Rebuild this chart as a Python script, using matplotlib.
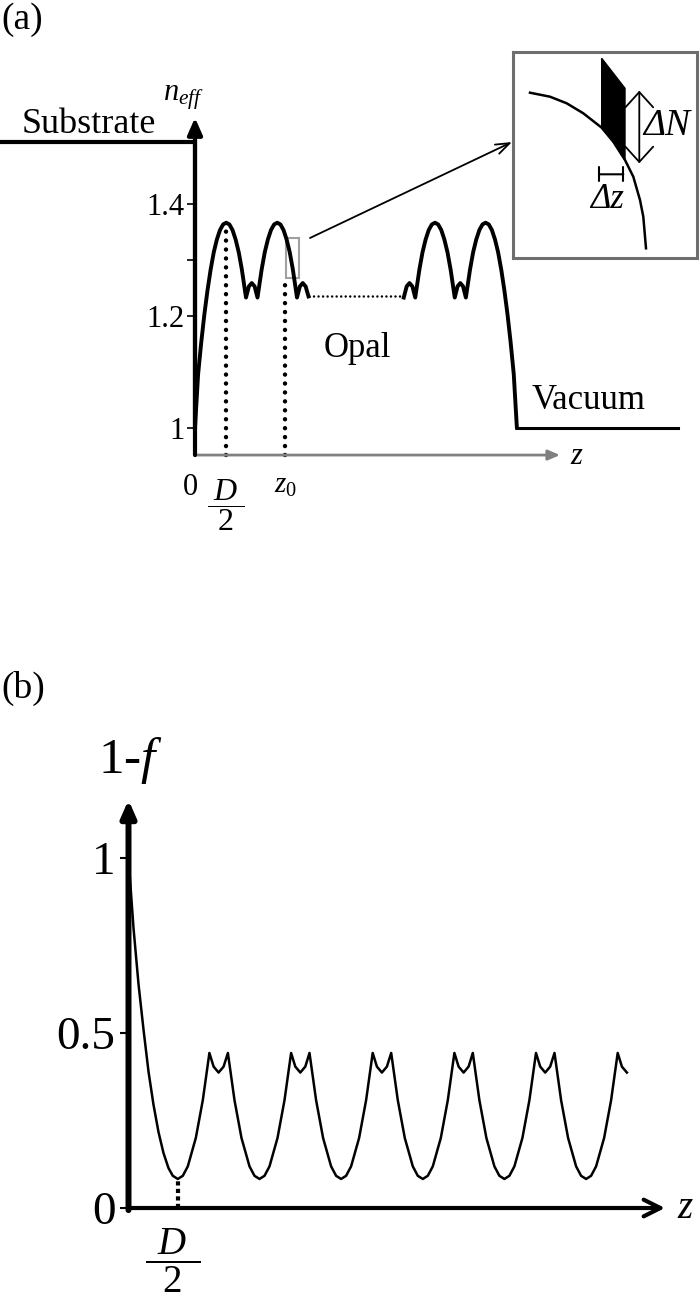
import matplotlib
matplotlib.use("Agg")
import matplotlib.pyplot as plt
from matplotlib.patches import Rectangle, Polygon

plt.rcParams['font.family'] = 'Liberation Serif'
plt.rcParams['mathtext.fontset'] = 'custom'
plt.rcParams['mathtext.rm'] = 'Liberation Serif'
plt.rcParams['mathtext.it'] = 'Liberation Serif:italic'

# ---- panel (a): effective index n_eff(z), z in units of D ----
sub_z = [-3.09, 0.0, 0.0]
sub_n = [1.5115, 1.5115, 1.0]

opal_left_z = [0.0, 0.05, 0.1, 0.15, 0.2, 0.25, 0.3, 0.35, 0.4, 0.45, 0.5, 0.55, 0.6, 0.65, 0.7, 0.75, 0.816,
               0.862, 0.908, 0.954, 1.0,
               1.066, 1.116, 1.166, 1.216, 1.266, 1.316, 1.366, 1.416, 1.466, 1.516, 1.566, 1.632,
               1.678, 1.724, 1.770, 1.816]
opal_left_n = [1.0, 1.096, 1.153, 1.203, 1.246, 1.283, 1.314, 1.337, 1.354, 1.364, 1.367, 1.364, 1.354, 1.337, 1.314, 1.283, 1.233,
               1.253, 1.259, 1.253, 1.233,
               1.283, 1.314, 1.337, 1.354, 1.364, 1.367, 1.364, 1.354, 1.337, 1.314, 1.283, 1.233,
               1.253, 1.259, 1.253, 1.235]

gap_z = [1.816, 3.34]
gap_n = [1.235, 1.235]

opal_right_z = [3.34, 3.387, 3.432, 3.478, 3.524,
                3.59, 3.64, 3.69, 3.74, 3.79, 3.84, 3.89, 3.94, 3.99, 4.04, 4.09, 4.156,
                4.201, 4.245, 4.289, 4.334,
                4.40, 4.45, 4.50, 4.55, 4.60, 4.65, 4.70, 4.75, 4.80, 4.85, 4.90,
                4.95, 5.0, 5.05, 5.10, 5.15]
opal_right_n = [1.233, 1.253, 1.259, 1.253, 1.233,
                1.283, 1.314, 1.337, 1.354, 1.364, 1.367, 1.364, 1.354, 1.337, 1.314, 1.283, 1.233,
                1.253, 1.259, 1.253, 1.233,
                1.283, 1.314, 1.337, 1.354, 1.364, 1.367, 1.364, 1.354, 1.337, 1.314, 1.283,
                1.246, 1.203, 1.153, 1.096, 1.0]

vac_z = [5.15, 7.73]
vac_n = [1.0, 1.0]

ticks_a = [1.0, 1.2, 1.3, 1.4]
tick_labels_a = ['1', '1.2', '', '1.4']

half_D = 0.5
peak_n = 1.367
z0 = 1.44
z0_n = 1.27
axis_n = 0.951

# zoom box on the curve and the inset picture (inset in pixel-like units)
box_z, box_n, box_w, box_h = 1.452, 1.268, 0.212, 0.072
arc_x = [17, 37, 53.7, 70.3, 88.7, 100.3, 112, 120.3, 127, 130.3, 133]
arc_y = [40.7, 44.7, 51.3, 61.3, 75.7, 89.7, 108, 124.7, 148, 164.7, 196.3]
wedge_x = [88.7, 112, 112, 100.3, 88.7]
wedge_y = [6.3, 36.3, 108, 89.7, 75.7]

# ---- panel (b): 1-f(z) ----
fill_z = [0.0, 0.05, 0.1, 0.15, 0.2, 0.25, 0.3, 0.35, 0.4, 0.443, 0.493, 0.543, 0.593, 0.673, 0.743, 0.809,
          0.851, 0.901, 0.951,
          0.994, 1.060, 1.130, 1.210, 1.260, 1.310, 1.360, 1.410, 1.490, 1.560, 1.626,
          1.668, 1.718, 1.768,
          1.810, 1.876, 1.946, 2.026, 2.076, 2.126, 2.176, 2.226, 2.306, 2.376, 2.442,
          2.484, 2.534, 2.584,
          2.627, 2.693, 2.763, 2.843, 2.893, 2.943, 2.993, 3.043, 3.123, 3.193, 3.259,
          3.301, 3.351, 3.401,
          3.443, 3.509, 3.579, 3.659, 3.709, 3.759, 3.809, 3.859, 3.939, 4.009, 4.075,
          4.117, 4.167, 4.217,
          4.260, 4.326, 4.396, 4.476, 4.526, 4.576, 4.626, 4.676, 4.756, 4.826, 4.892,
          4.934, 4.984]
fill_v = [1.0, 0.80, 0.64, 0.51, 0.39, 0.295, 0.217, 0.157, 0.114, 0.092, 0.083, 0.092, 0.119, 0.200, 0.308, 0.443,
          0.404, 0.387, 0.404,
          0.443, 0.308, 0.200, 0.119, 0.092, 0.083, 0.092, 0.119, 0.200, 0.308, 0.443,
          0.404, 0.387, 0.404,
          0.443, 0.308, 0.200, 0.119, 0.092, 0.083, 0.092, 0.119, 0.200, 0.308, 0.443,
          0.404, 0.387, 0.404,
          0.443, 0.308, 0.200, 0.119, 0.092, 0.083, 0.092, 0.119, 0.200, 0.308, 0.443,
          0.404, 0.387, 0.404,
          0.443, 0.308, 0.200, 0.119, 0.092, 0.083, 0.092, 0.119, 0.200, 0.308, 0.443,
          0.404, 0.387, 0.404,
          0.443, 0.308, 0.200, 0.119, 0.092, 0.083, 0.092, 0.119, 0.200, 0.308, 0.443,
          0.404, 0.387]

ticks_b = [0, 0.5, 1]
tick_labels_b = ['0', '0.5', '1']
min_z = 0.493
min_v = 0.083

fig = plt.figure(figsize=(7, 13.03), dpi=100)

# panel (a)
ax = fig.add_axes([0, 763 / 1303, 1, 500 / 1303])
ax.set_xlim(-3.12, 8.08)
ax.set_ylim(0.7989, 1.6942)
for s in ['top', 'right', 'bottom']:
    ax.spines[s].set_visible(False)
ax.spines['left'].set_position(('data', 0))
ax.spines['left'].set_color('none')
ax.set_xticks([])
ax.set_yticks(ticks_a)
ax.set_yticklabels(tick_labels_a)
ax.tick_params(axis='y', direction='out', length=5.5, width=1.2, labelsize=22, pad=2, color='black')

ax.annotate('', xy=(5.84, axis_n), xytext=(0, axis_n),
            arrowprops=dict(arrowstyle='-|>,head_length=0.7,head_width=0.3', lw=2, color='#808080',
                            shrinkA=0, shrinkB=0, mutation_scale=10))
ax.annotate('', xy=(0, 1.555), xytext=(0, axis_n),
            arrowprops=dict(arrowstyle='-|>,head_length=0.5,head_width=0.22', lw=3, color='black',
                            shrinkA=0, shrinkB=0, mutation_scale=20))

ax.plot(sub_z, sub_n, color='black', lw=3, solid_joinstyle='miter')
ax.plot(opal_left_z, opal_left_n, color='black', lw=2.8, solid_joinstyle='round')
ax.plot(gap_z, gap_n, color='black', lw=1.8, linestyle=(0, (0.01, 1.8)), dash_capstyle='round')
ax.plot(opal_right_z, opal_right_n, color='black', lw=2.8, solid_joinstyle='round')
ax.plot(vac_z, vac_n, color='black', lw=2.2)

# dotted markers at D/2 and z0
ax.plot([half_D, half_D], [axis_n, peak_n], color='black', lw=3.2,
        linestyle=(0, (0.01, 2.0)), dash_capstyle='round')
ax.plot([z0, z0], [axis_n, z0_n], color='black', lw=3.2,
        linestyle=(0, (0.01, 2.0)), dash_capstyle='round')

ax.add_patch(Rectangle((box_z, box_n), box_w, box_h, fill=False, edgecolor='#a0a0a0', lw=1.5))
ax.annotate('', xy=(5.072, 1.5115), xytext=(1.84, 1.3397),
            arrowprops=dict(arrowstyle='->,head_length=0.5,head_width=0.18', lw=1.3, color='black',
                            shrinkA=0, shrinkB=0, mutation_scale=20))

ax.text(-2.77, 1.5277, 'Substrate', fontsize=26, va='baseline')
ax.text(2.064, 1.1266, 'Opal', fontsize=25, va='baseline')
ax.text(5.387, 1.033, 'Vacuum', fontsize=25, va='baseline')
ax.text(-0.51, 1.5866, r'$n_{eff}$', fontsize=22, va='baseline')
ax.text(6.0, 0.935, r'$z$', fontsize=22, va='baseline')
ax.text(-0.08, 0.8795, '0', fontsize=22, ha='center', va='baseline')
ax.text(0.496, 0.862, r'$\dfrac{\;D\;}{2}$', fontsize=23, ha='center', va='center')
ax.text(1.456, 0.883, r'$z_{\mathit{0}}$', fontsize=21, ha='center', va='baseline')

# inset
axi = fig.add_axes([513 / 700, 1045 / 1303, 184 / 700, 206 / 1303])
axi.set_xlim(0, 184)
axi.set_ylim(206, 0)
axi.set_xticks([])
axi.set_yticks([])
for sp in axi.spines.values():
    sp.set_color('#6e6e6e')
    sp.set_linewidth(2.2)
axi.plot(arc_x, arc_y, color='black', lw=1.8)
axi.add_patch(Polygon(list(zip(wedge_x, wedge_y)), closed=True, facecolor='black', edgecolor='black', lw=1))
axi.annotate('', xy=(126.3, 38.7), xytext=(126.3, 111.3),
             arrowprops=dict(arrowstyle='<->,head_length=0.55,head_width=0.5', lw=1.3, color='black',
                             shrinkA=0, shrinkB=0, mutation_scale=20))
axi.text(130, 83, 'ΔN', fontsize=27, style='italic', ha='left', va='baseline')
axi.annotate('', xy=(86.3, 122.3), xytext=(110.3, 122.3),
             arrowprops=dict(arrowstyle='|-|,widthA=0.25,widthB=0.25', lw=1.5, color='black',
                             shrinkA=0, shrinkB=0, mutation_scale=20))
axi.text(93.7, 156.3, 'Δz', fontsize=25, style='italic', ha='center', va='baseline')

# panel (b)
axb = fig.add_axes([0, 0, 1, 663 / 1303])
axb.set_xlim(-1.285, 5.715)
axb.set_ylim(-0.2714, 1.6229)
for s in ['top', 'right', 'bottom']:
    axb.spines[s].set_visible(False)
axb.spines['left'].set_position(('data', 0))
axb.spines['left'].set_color('none')
axb.set_xticks([])
axb.set_yticks(ticks_b)
axb.set_yticklabels(tick_labels_b)
axb.tick_params(axis='y', direction='out', length=6.5, width=1.5, labelsize=34, pad=3, color='black')

axb.annotate('', xy=(5.365, 0), xytext=(0, 0),
             arrowprops=dict(arrowstyle='->,head_length=0.6,head_width=0.3', lw=3, color='black',
                             shrinkA=0, shrinkB=0, mutation_scale=20))
axb.annotate('', xy=(0, 1.166), xytext=(0, -0.006),
             arrowprops=dict(arrowstyle='-|>,head_length=0.5,head_width=0.22', lw=4.3, color='black',
                             shrinkA=0, shrinkB=0, mutation_scale=20))

axb.plot(fill_z, fill_v, color='black', lw=1.8)
axb.plot([min_z, min_z], [0, min_v], color='black', lw=3, linestyle=(0, (1.0, 0.8)))

axb.text(-0.305, 1.243, '1-$f$', fontsize=37, ha='left', va='baseline')
axb.text(5.485, -0.0286, r'$z$', fontsize=28, ha='left', va='baseline')
axb.text(0.44, -0.151, r'$\dfrac{\;\,D\;\,}{2}$', fontsize=28, ha='center', va='center')

fig.text(0.002, 1 - 29 / 1303, '(a)', fontsize=27, va='baseline')
fig.text(0.002, 1 - 698 / 1303, '(b)', fontsize=27, va='baseline')

fig.savefig('out.png', dpi=100)
